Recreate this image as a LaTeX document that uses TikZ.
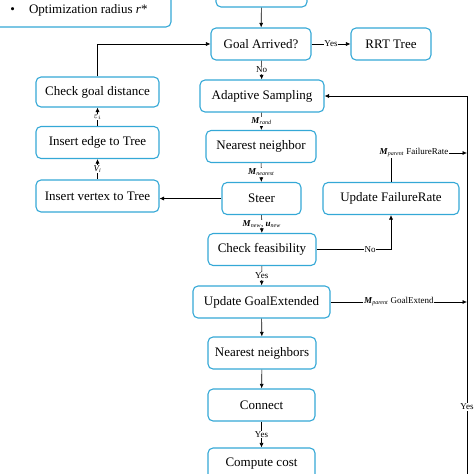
\documentclass[tikz,border=0pt]{standalone}
\usepackage{fontspec}
\setmainfont{Liberation Serif}
\usetikzlibrary{arrows.meta}
\definecolor{boxblue}{RGB}{52,168,214}
\tikzset{
	flowbox/.style={draw=boxblue, line width=1.1pt, rounded corners=5pt, minimum height=32pt, inner sep=2pt, font=\fontsize{13}{15}\selectfont},
	flowline/.style={line width=0.6pt, -{Latex[length=4.5pt,width=4pt]}},
	plainline/.style={line width=0.6pt},
	edgelabel/.style={fill=white, inner sep=0.8pt, font=\fontsize{9}{10}\selectfont},
}
\newcommand{\Mvar}[1]{\textbf{\textit{M}}\textsubscript{\textit{#1}}}

\begin{document}
\begin{tikzpicture}[x=1pt,y=-1pt]
		\useasboundingbox (0,0) rectangle (474,474);
		\clip (0,0) rectangle (474,474);
		%%%%% START %%%%%
		\node[flowbox, minimum width=184pt, minimum height=34pt] (legend) at (79,10) {\textbullet\hspace{14pt}Optimization radius \textit{r}*};
		
		\node[flowbox, minimum width=91pt] (init) at (261.5,-9) {};
		\node[flowbox, minimum width=100pt] (goal) at (261,44) {Goal Arrived?};
		\node[flowbox, minimum width=80pt] (rrt) at (391,44) {RRT Tree};
		\node[flowbox, minimum width=124pt] (adapt) at (262,96) {Adaptive Sampling};
		\node[flowbox, minimum width=110pt] (nn) at (261,146.5) {Nearest neighbor};
		\node[flowbox, minimum width=79pt] (steer) at (261.5,198.5) {Steer};
		\node[flowbox, minimum width=108pt] (cf) at (262,249.5) {Check feasibility};
		\node[flowbox, minimum width=137pt] (uge) at (261.5,302) {Update GoalExtended};
		\node[flowbox, minimum width=108pt] (nns) at (262,353) {Nearest neighbors};
		\node[flowbox, minimum width=107pt] (connect) at (261.5,405) {Connect};
		\node[flowbox, minimum width=107pt] (cost) at (261.5,464) {Compute cost};
		
		\node[flowbox, minimum width=136pt] (ufr) at (391,198.5) {Update FailureRate};
		
		\node[flowbox, minimum width=123pt, minimum height=30pt] (cgd) at (97.5,92) {Check goal distance};
		\node[flowbox, minimum width=123pt] (iet) at (97.5,142.5) {Insert edge to Tree};
		\node[flowbox, minimum width=123pt] (ivt) at (97.5,196) {Insert vertex to Tree};
		
		\coordinate (rtop) at (467,96);
		\coordinate (rbot) at (467,480);
		
		% main column
		\draw[flowline] (init) -- (goal);
		\draw[flowline] (goal) -- node[edgelabel] {Yes} (rrt);
		\draw[flowline] (goal) -- node[edgelabel] {No} (adapt);
		\draw[flowline] (adapt) -- node[edgelabel] {\Mvar{rand}} (nn);
		\draw[flowline] (nn) -- node[edgelabel] {\Mvar{nearest}} (steer);
		\draw[flowline] (steer) -- node[edgelabel] {\Mvar{new}, \textbf{\textit{u}}\textsubscript{\textit{new}}} (cf);
		\draw[flowline] (cf) -- node[edgelabel] {Yes} (uge);
		\draw[flowline] (uge) -- (nns);
		\draw[flowline] (nns) -- (connect);
		\draw[flowline] (connect) -- node[edgelabel] {Yes} (cost);
		
		% right side
		\draw[flowline] (cf.east) -| node[edgelabel, pos=0.36] {No} (ufr.south);
		\node[edgelabel] (fratelbl) at (414,153) {\Mvar{parent} FailureRate};
		\draw[plainline] (ufr.north) -- (ufr.north |- fratelbl.south);
		\draw[flowline] (fratelbl.east) -- (fratelbl.east -| rtop);
		\draw[flowline] (uge.east) -- node[edgelabel] {\Mvar{parent} GoalExtend} (uge.east -| rtop);
		\draw[flowline] (rbot) -- node[edgelabel, pos=0.19] {Yes} (rtop) -- (adapt.east);
		
		% left side
		\draw[flowline] (steer.west) -- (steer.west -| ivt.east);
		\draw[flowline] (ivt) -- node[edgelabel] {\textit{V\textsubscript{i}}} (iet);
		\draw[flowline] (iet) -- node[edgelabel] {$\varepsilon_i$} (cgd);
		\draw[flowline] (cgd.north) |- (goal.west);
		%%%%% END %%%%%
	\end{tikzpicture}
\end{document}
